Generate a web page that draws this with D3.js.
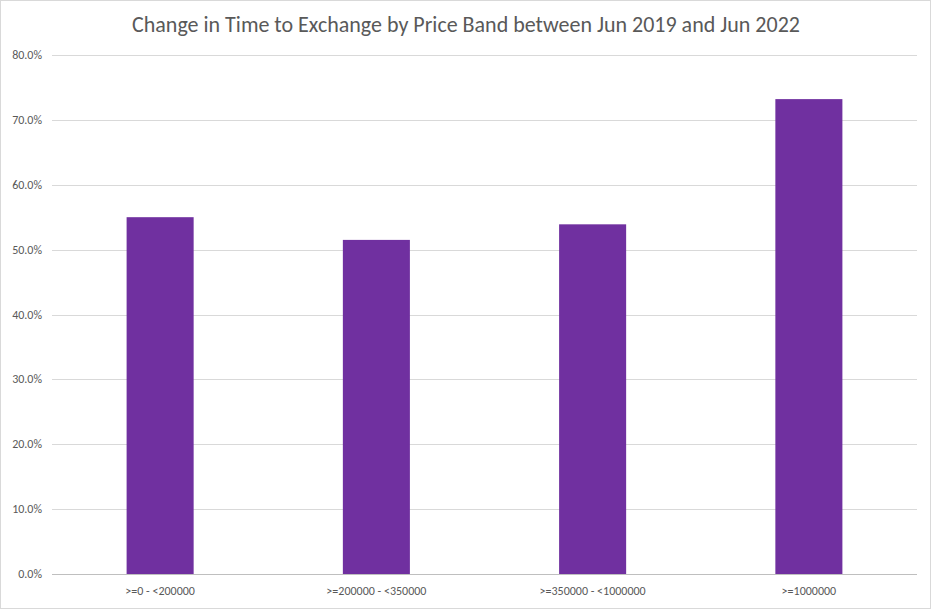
<!DOCTYPE html>
<html><head><meta charset="utf-8">
<script src="https://cdn.jsdelivr.net/npm/d3@7"></script>
<style>body{margin:0;background:#fff}text{font-family:Calibri,Carlito,"Liberation Sans",Arial,sans-serif}</style>
</head><body>
<svg id="chart" width="931" height="609"></svg>
<script>
// values
var categories = [">=0 - <200000", ">=200000 - <350000", ">=350000 - <1000000", ">=1000000"];
var changes = [0.550, 0.515, 0.539, 0.732];
var yTicks = [0, 0.1, 0.2, 0.3, 0.4, 0.5, 0.6, 0.7, 0.8];

var svg = d3.select('#chart');
var plotLeft = 52, plotRight = 917, plotTop = 55, plotBottom = 574;

svg.append('rect').attr('x', 0.5).attr('y', 0.5).attr('width', 930).attr('height', 608)
	.attr('fill', '#fff').attr('stroke', '#d9d9d9');

var x = d3.scaleBand().domain(categories).range([plotLeft, plotRight]).paddingInner(0.69).paddingOuter(0.345);
var y = d3.scaleLinear().domain([0, 0.8]).range([plotBottom, plotTop]);

// gridlines
svg.selectAll('line.grid').data(yTicks).enter().append('line')
	.attr('x1', plotLeft).attr('x2', plotRight)
	.attr('y1', function(d) { return Math.round(y(d)) + 0.5; })
	.attr('y2', function(d) { return Math.round(y(d)) + 0.5; })
	.attr('stroke', function(d) { return d === 0 ? '#bfbfbf' : '#d9d9d9'; });

svg.selectAll('text.ytick').data(yTicks).enter().append('text')
	.attr('x', 42).attr('y', function(d) { return y(d) + 4; })
	.attr('text-anchor', 'end').attr('font-size', 12).attr('fill', '#595959')
	.text(function(d) { return d3.format('.1%')(d); });

svg.selectAll('rect.bar').data(changes).enter().append('rect')
	.attr('x', function(d, i) { return x(categories[i]); })
	.attr('width', x.bandwidth())
	.attr('y', function(d) { return y(d); })
	.attr('height', function(d) { return plotBottom - y(d); })
	.attr('fill', '#7030a0');

svg.selectAll('text.xtick').data(categories).enter().append('text')
	.attr('x', function(d) { return x(d) + x.bandwidth() / 2; })
	.attr('y', 595).attr('text-anchor', 'middle')
	.attr('font-size', 12).attr('fill', '#595959')
	.text(function(d) { return d; });

svg.append('text').attr('x', 466).attr('y', 32).attr('text-anchor', 'middle')
	.attr('font-size', 22).attr('fill', '#595959')
	.text('Change in Time to Exchange by Price Band between Jun 2019 and Jun 2022');
</script>
</body></html>
